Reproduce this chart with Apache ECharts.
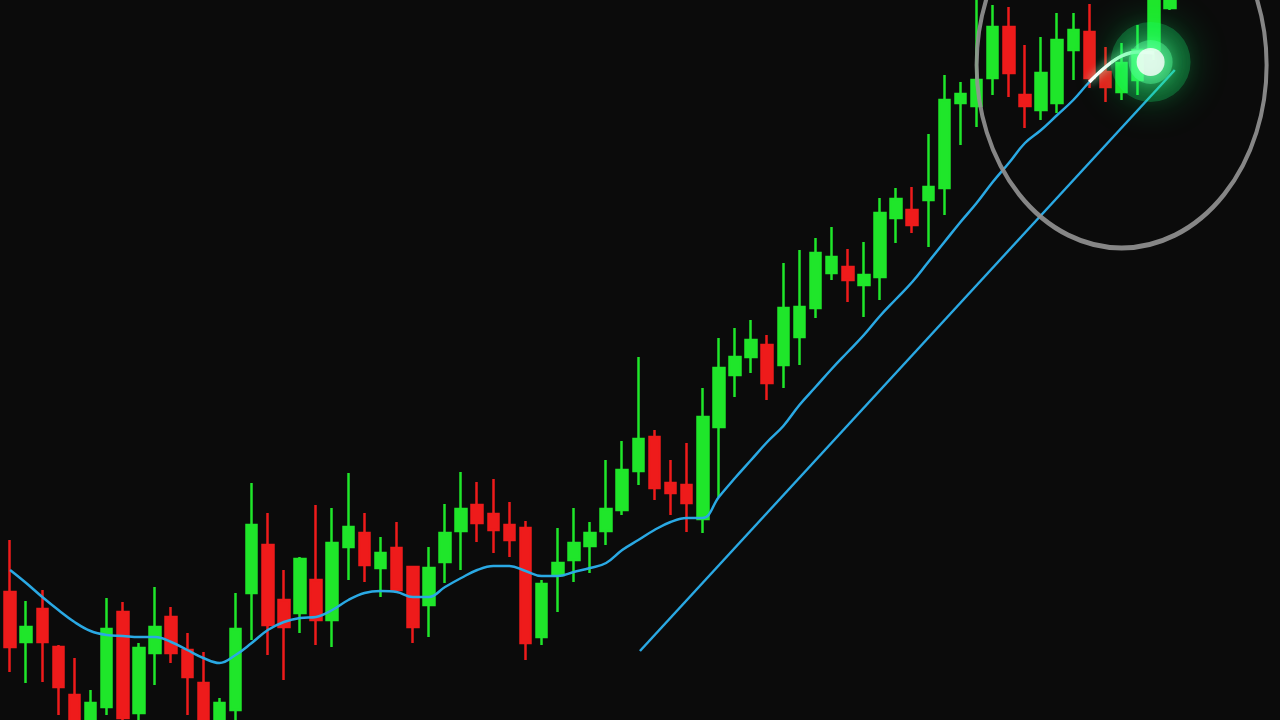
<!DOCTYPE html>
<html>
<head>
<meta charset="utf-8">
<script src="https://cdn.jsdelivr.net/npm/echarts@6/dist/echarts.min.js"></script>
<style>
html,body{margin:0;padding:0;background:#0b0b0b;}
#chart{width:1280px;height:720px;}
</style>
</head>
<body>
<div id="chart"></div>
<script>
// Candle data (price units = pixel height above bottom edge)
const opens  = [128,78,111,73,25,-15,13,108,7,67,103,70,37,-15,10,127,175,120,107,140,100,173,187,152,172,153,115,158,189,215,206,195,192,83,145,160,174,189,210,249,283,237,235,201,293,345,363,375,355,383,412,447,453,435,443,502,510,520,532,617,614,642,693,625,610,617,670,688,648,628,640,670,712];
const closes = [73,93,78,33,-10,17,91,2,72,93,67,43,-10,17,91,195,95,93,161,100,177,193,155,167,130,93,152,187,211,197,190,180,77,136,157,177,187,211,250,281,232,227,217,303,352,363,380,337,412,413,467,463,440,445,507,521,495,533,620,626,640,693,647,614,647,680,690,642,633,657,670,725,725];
const lows   = [48,37,38,5,-20,-25,5,-10,-2,35,57,5,-20,-25,-5,80,65,40,87,75,73,140,138,123,127,77,83,137,150,178,167,163,60,75,108,138,147,175,205,235,220,205,188,187,223,323,347,320,332,355,402,440,418,403,420,477,487,473,505,575,593,625,623,592,600,607,640,632,618,620,625,660,710];
const highs  = [180,119,130,75,62,30,122,118,77,133,113,87,68,22,127,237,207,150,163,215,212,247,207,183,198,154,173,216,248,238,241,218,199,140,192,212,198,260,279,363,290,260,277,332,382,392,400,385,457,470,482,493,471,478,522,532,533,586,645,638,730,715,713,675,683,707,707,716,673,677,695,730,730];
const movingAvg = [150,137,123,110,98,89,85,84,83,83,78,70,62,57,65,77,90,98,102,103,110,120,127,129,128,123,123,133,142,150,154,154,149,144,144,148,152,157,170,180,190,198,202,202,223,242,260,278,294,315,333,351,368,385,404,421,438,458,478,498,517,538,557,577,590,605,620,638,653,664,668,667,null];
// highlighted (white) tail of the moving average
const maTailStart = 67;
// trend line end points: [candle position, price]
const trendLine = [[39.1, 69], [72.3, 650]];
// circled area: [candle position, price]
const circleCenter = [69.0, 655];
// glow point
const glowPoint = [70.8, 658];

const categories = opens.map((_, i) => 'D' + (i + 1));
const candleData = opens.map((o, i) => [o, closes[i], lows[i], highs[i]]);
const tail = movingAvg.map((v, i) => (i >= maTailStart ? v : null));

const GREEN = '#1fe62a', RED = '#ee1b1b', BLUE = '#2aa9e4';

const chart = echarts.init(document.getElementById('chart'));
chart.setOption({
  backgroundColor: '#0b0b0b',
  animation: false,
  grid: { left: 2, right: 102, top: 0, bottom: 0 },
  xAxis: [
    { type: 'category', data: categories, boundaryGap: true, show: false },
    { type: 'value', min: -0.5, max: categories.length - 0.5, show: false }
  ],
  yAxis: { type: 'value', min: 0, max: 720, show: false, splitLine: { show: false } },
  series: [
    {
      type: 'candlestick',
      data: candleData,
      barWidth: 11,
      itemStyle: {
        color: GREEN, color0: RED,
        borderColor: GREEN, borderColor0: RED,
        borderWidth: 2.5
      },
      z: 2
    },
    {
      type: 'line',
      data: movingAvg,
      smooth: 0.4,
      symbol: 'none',
      lineStyle: { color: BLUE, width: 2.5 },
      z: 3
    },
    {
      type: 'line',
      data: tail,
      smooth: 0.4,
      symbol: 'none',
      lineStyle: { color: '#ffffff', width: 3.5, shadowBlur: 8, shadowColor: '#aaffcc' },
      z: 4
    },
    {
      type: 'line',
      xAxisIndex: 1,
      data: trendLine,
      symbol: 'none',
      lineStyle: { color: BLUE, width: 2.5 },
      z: 3
    },
    {
      type: 'scatter',
      xAxisIndex: 1,
      data: [circleCenter],
      symbol: 'circle',
      symbolSize: [290, 366],
      itemStyle: { color: 'rgba(0,0,0,0)', borderColor: '#939393', borderWidth: 4.5, opacity: 0.9 },
      z: 5
    },
    {
      type: 'scatter',
      xAxisIndex: 1,
      data: [glowPoint],
      symbolSize: 80,
      itemStyle: { color: 'rgba(30,255,120,0.3)', shadowBlur: 40, shadowColor: '#10ff70' },
      z: 6
    },
    {
      type: 'scatter',
      xAxisIndex: 1,
      data: [glowPoint],
      symbolSize: 44,
      itemStyle: { color: 'rgba(80,255,150,0.55)', shadowBlur: 30, shadowColor: '#30ff80' },
      z: 6
    },
    {
      type: 'scatter',
      xAxisIndex: 1,
      data: [glowPoint],
      symbolSize: 28,
      itemStyle: { color: '#ffffff', shadowBlur: 20, shadowColor: '#80ffb0' },
      z: 7
    }
  ]
});
</script>
</body>
</html>
